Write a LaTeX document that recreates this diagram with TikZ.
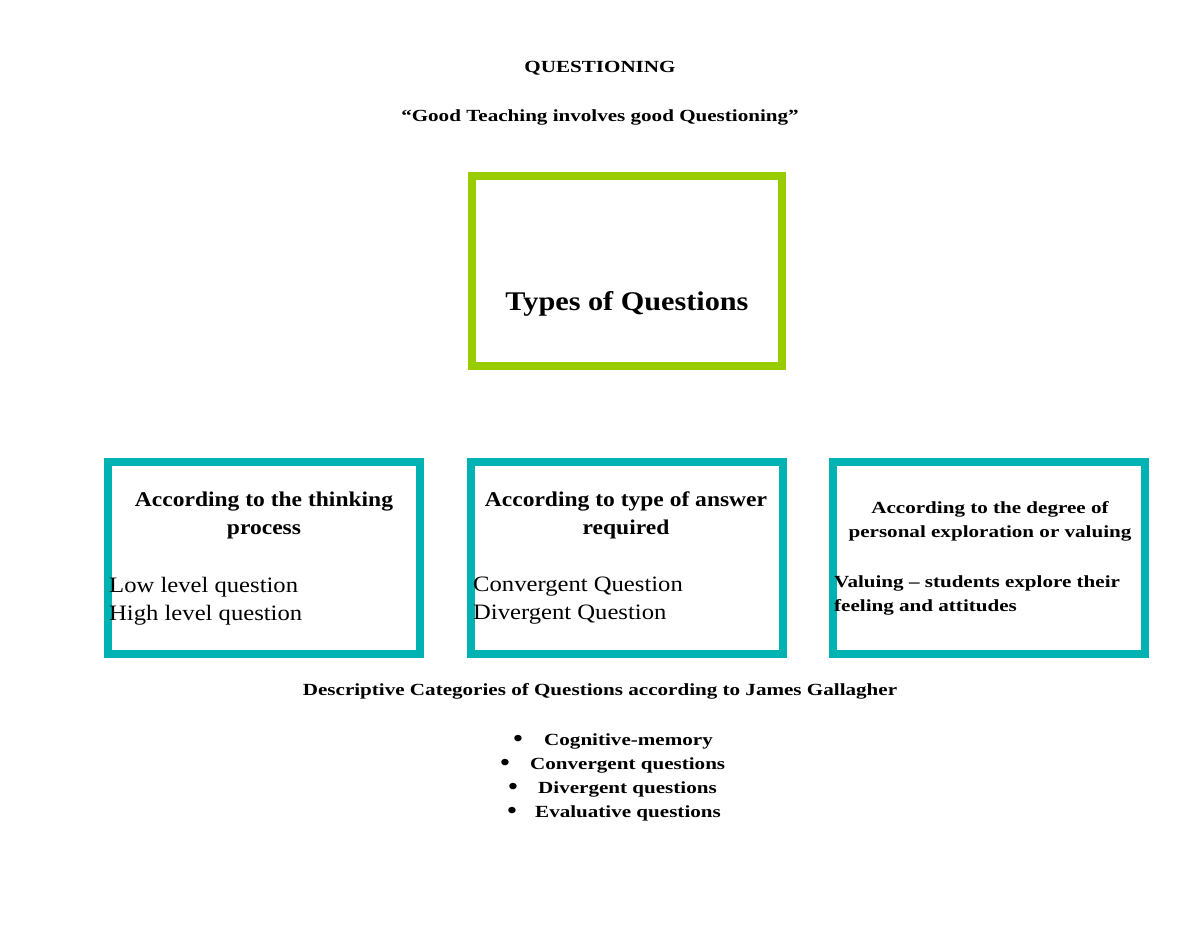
\documentclass[tikz,border=0pt]{standalone}
\usepackage{fontspec}
\setmainfont[FakeStretch=1.12]{Liberation Serif}
\newfontfamily\widefont[FakeStretch=1.24]{Liberation Serif}
\definecolor{lgreen}{HTML}{99CC00}
\definecolor{teal2}{HTML}{00B2B2}
\begin{document}
\begin{tikzpicture}[x=1pt,y=-1pt,
  gbox/.style={draw=lgreen,line width=8pt},
  tbox/.style={draw=teal2,line width=8pt},
  t18/.style={font=\widefont\bfseries\fontsize{17}{20}\selectfont,inner sep=0pt},
  t22/.style={font=\fontsize{22}{28}\selectfont,inner sep=0pt},
  t22b/.style={font=\bfseries\fontsize{21}{28}\selectfont,inner sep=0pt,align=center}]
\useasboundingbox (0,0) rectangle (1200,927);
\node[t18] (title) at (600,68) {QUESTIONING};
\node[t18] (quote) at (600,117) {“Good Teaching involves good Questioning”};
\draw[gbox] (472,176) rectangle (782,366);
\node[font=\bfseries\fontsize{27}{32}\selectfont,inner sep=0pt] (types) at (627,304) {Types of Questions};
\draw[tbox] (108,462) rectangle (420,654);
\draw[tbox] (471,462) rectangle (783,654);
\draw[tbox] (833,462) rectangle (1145,654);
\node[t22b,anchor=north] (a1) at (264,492) {According to the thinking\\process};
\node[t22,anchor=west,align=left] (l1) at (109,601) {Low level question\\High level question};
\node[t22b,anchor=north] (a2) at (626,492) {According to type of answer\\required};
\node[t22,anchor=west,align=left] (l2) at (473,601) {Convergent Question\\Divergent Question};
\node[t18,anchor=north,align=center,font=\widefont\bfseries\fontsize{17}{24}\selectfont] (a3) at (990,501) {According to the degree of\\personal exploration or valuing};
\node[t18,anchor=west,align=left,font=\widefont\bfseries\fontsize{17}{24}\selectfont] (l3) at (834,595) {Valuing – students explore their\\feeling and attitudes};
\node[t18] (desc) at (600,691) {Descriptive Categories of Questions according to James Gallagher};
\node[t18,font=\bfseries\fontsize{24}{24}\selectfont] (b1) at (518,741) {•};
\node[t18,anchor=west] (c1) at (544,741) {Cognitive-memory};
\node[t18,font=\bfseries\fontsize{24}{24}\selectfont] (b2) at (505,765) {•};
\node[t18,anchor=west] (c2) at (530,765) {Convergent questions};
\node[t18,font=\bfseries\fontsize{24}{24}\selectfont] (b3) at (513,789) {•};
\node[t18,anchor=west] (c3) at (538,789) {Divergent questions};
\node[t18,font=\bfseries\fontsize{24}{24}\selectfont] (b4) at (512,813) {•};
\node[t18,anchor=west] (c4) at (535,813) {Evaluative questions};
\end{tikzpicture}
\end{document}
